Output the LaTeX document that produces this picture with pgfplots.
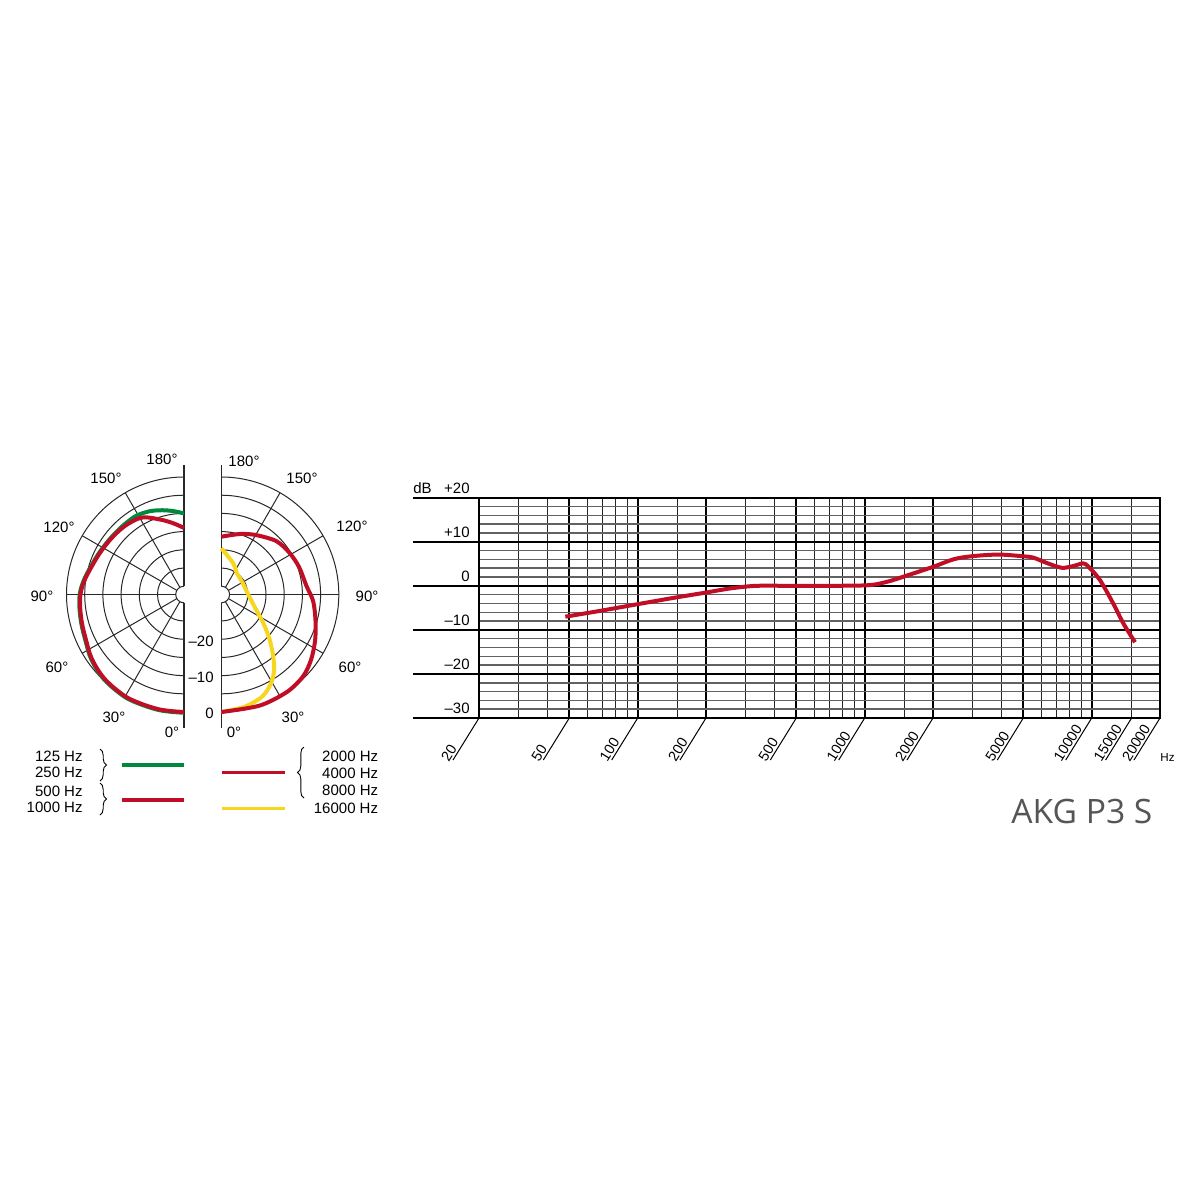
\documentclass[border=0pt]{standalone}
\usepackage{pgfplots}
\pgfplotsset{compat=1.18}
\usepackage{pgfplotstable}
\usepackage{fontspec}
\setmainfont{Liberation Sans}
\newfontfamily\akgfont{Open Sans}
\usetikzlibrary{decorations.pathreplacing}

\definecolor{akgred}{RGB}{192,14,38}
\definecolor{akggreen}{RGB}{0,136,60}
\definecolor{akgyellow}{RGB}{247,214,30}
\definecolor{ringgray}{RGB}{40,40,40}
\definecolor{akggray}{RGB}{85,85,85}

% polar patterns: angle from 0 deg (front, bottom), level in dB
\pgfplotstableread{
a db
0 0.2
12 0.2
25 0.2
33 0.1
44 -0.3
55 -1.2
65 -2.4
75 -3.0
85 -3.4
92 -3.8
99 -4.6
107 -5.6
116 -6.3
126 -6.8
135 -7.0
142 -7.0
149 -7.0
157 -7.5
164 -8.2
172 -9.1
180 -10.0
}\leftgreen

\pgfplotstableread{
a db
0 0
12 0
25 0
33 -0.1
44 -0.5
55 -1.4
65 -2.6
75 -3.2
85 -3.6
92 -4.0
99 -4.8
107 -5.8
116 -6.5
126 -7.0
135 -7.3
143 -7.6
152 -8.3
162 -10.6
171 -12.4
180 -14.0
}\leftred

\pgfplotstableread{
a db
0 0
19 0
34 0
45 -0.5
54 -1.8
64 -3.6
75 -5.5
86 -7.0
96 -8.8
109 -9.6
121 -10.3
134 -11.2
150 -13.4
163 -14.9
180 -16.4
}\rightred

\pgfplotstableread{
a db
0 0
12 -0.8
22 -2.1
29.5 -4.4
35 -7.0
40 -10.1
47 -14.1
55 -18.0
65 -21.5
86 -24.6
120 -25.6
144 -25.0
160 -23.0
180 -19.6
}\rightyellow

% frequency response
\pgfplotstableread{
f db
48 -7.0
68 -5.7
99 -4.2
149 -2.6
196 -1.6
255 -0.6
334 0.0
500 0.0
1000 0.1
1250 0.9
1506 2.2
2000 4.3
2456 6.0
2940 6.7
3880 7.1
5000 6.7
5534 6.4
6334 5.2
7380 4.1
8300 4.5
9180 5.1
9700 4.3
10880 1.3
12440 -4.0
13780 -8.5
15520 -12.8
}\freq

\begin{document}
\begin{tikzpicture}[font=\fontsize{7.5}{9}\selectfont]
% 1 px of the reference = 0.5pt
\begin{scope}[x=0.5pt, y=0.5pt]
\useasboundingbox (0,0) rectangle (1200,-1200);

% ---- polar grids ----
\foreach \r in {4.15,13.25,22.35,31.45,40.55,49.65,58.75}{
  \draw[ringgray, line width=0.5pt] (184,-594.5) ++(90:\r pt) arc[start angle=90, end angle=270, radius=\r pt];
  \draw[ringgray, line width=0.5pt] (221.3,-594.5) ++(-90:\r pt) arc[start angle=-90, end angle=90, radius=\r pt];
}
\foreach \a in {120,150,180,210,240}{
  \draw[ringgray, line width=0.5pt] (184,-594.5) ++(\a:4.15pt) -- ++(\a:54.6pt);
}
\foreach \a in {-60,-30,0,30,60}{
  \draw[ringgray, line width=0.5pt] (221.3,-594.5) ++(\a:4.15pt) -- ++(\a:54.6pt);
}
\draw[ringgray, line width=0.55pt] (184,-465) -- (184,-586.2) (184,-602.8) -- (184,-728);
\draw[ringgray, line width=0.55pt] (221.3,-465) -- (221.3,-586.2) (221.3,-602.8) -- (221.3,-728);

% angle labels
\node at (162,-459) {180°};
\node at (106,-478) {150°};
\node at (59,-527) {120°};
\node at (42,-596) {90°};
\node at (57,-667) {60°};
\node at (114,-717) {30°};
\node at (172,-732) {0°};
\node at (244,-461) {180°};
\node at (302,-478) {150°};
\node at (352,-526) {120°};
\node at (367,-596) {90°};
\node at (350,-667) {60°};
\node at (293,-717) {30°};
\node at (234,-732) {0°};
\node[anchor=east, inner sep=0pt] at (214,-641) {\textendash20};
\node[anchor=east, inner sep=0pt] at (214,-677) {\textendash10};
\node[anchor=east, inner sep=0pt] at (214,-713) {0};

% ---- legend ----
\node[anchor=east, inner sep=0pt] at (83,-756.7) {125 Hz};
\node[anchor=east, inner sep=0pt] at (83,-772.7) {250 Hz};
\node[anchor=east, inner sep=0pt] at (83,-791) {500 Hz};
\node[anchor=east, inner sep=0pt] at (83,-807.3) {1000 Hz};
\draw[decorate, decoration={brace, amplitude=3.2pt}, line width=0.45pt] (100,-749) -- (100,-781);
\draw[decorate, decoration={brace, amplitude=3.2pt}, line width=0.45pt] (100,-783) -- (100,-815);
\draw[akggreen, line width=1.7pt] (122,-765) -- (184,-765);
\draw[akgred, line width=1.7pt] (122,-800) -- (184,-800);
\draw[akgred, line width=1.7pt] (222,-772.3) -- (285,-772.3);
\draw[akgyellow, line width=1.7pt] (222,-808.3) -- (285,-808.3);
\draw[decorate, decoration={brace, amplitude=3.2pt}, line width=0.45pt] (304,-798) -- (304,-747);
\node[anchor=east, inner sep=0pt] at (378.5,-756) {2000 Hz};
\node[anchor=east, inner sep=0pt] at (378.5,-773.3) {4000 Hz};
\node[anchor=east, inner sep=0pt] at (378.5,-790.7) {8000 Hz};
\node[anchor=east, inner sep=0pt] at (378.5,-808.3) {16000 Hz};

% slanted frequency labels
\foreach \xp/\lab in {479/20, 569.3/50, 637.7/100, 706/200, 796.3/500, 864.7/1000,
    933/2000, 1023.3/5000, 1091.7/10000, 1131.6/15000, 1160/20000}{
  \draw[black, line width=0.5pt] (\xp,-718) -- ++(-26,-42);
  \node[anchor=south west, rotate=58, inner sep=0pt, font=\fontsize{7.2}{8}\selectfont]
    at ({\xp-30},-763) {\lab};
}
\foreach \y in {497.7,541.7,585.8,629.9,673.9,718}{
  \draw[black, line width=0.9pt] (413,-\y) -- (479,-\y);
}
\node[anchor=base west, inner sep=0pt] at (413,-493.2) {dB};
\node[anchor=base east, inner sep=0pt] at (470,-493.2) {+20};
\node[anchor=base east, inner sep=0pt] at (470,-537.2) {+10};
\node[anchor=base east, inner sep=0pt] at (470,-581.3) {0};
\node[anchor=base east, inner sep=0pt] at (470,-625.4) {\textendash10};
\node[anchor=base east, inner sep=0pt] at (470,-669.4) {\textendash20};
\node[anchor=base east, inner sep=0pt] at (470,-713.5) {\textendash30};
\node[anchor=west, inner sep=0pt, font=\fontsize{5.8}{7}\selectfont] at (1160,-757.5) {Hz};

\node[anchor=base west, inner sep=0pt, text=akggray, font=\akgfont\fontsize{16.8}{19}\selectfont] at (1011,-823.3) {AKG P3 S};
\end{scope}

% ---- left polar pattern ----
\begin{axis}[at={(92pt,-297.25pt)}, anchor=origin, hide axis,
  x=1.82pt, y=1.82pt, xmin=-40, xmax=40, ymin=-40, ymax=40, clip=false]
\addplot[akggreen, line width=2pt, smooth, tension=0.6, data cs=polar]
  table[x expr={270-\thisrow{a}}, y expr={\thisrow{db}+32.28}] {\leftgreen};
\addplot[akgred, line width=2pt, smooth, tension=0.6, data cs=polar]
  table[x expr={270-\thisrow{a}}, y expr={\thisrow{db}+32.28}] {\leftred};
\end{axis}

% ---- right polar pattern ----
\begin{axis}[at={(110.65pt,-297.25pt)}, anchor=origin, hide axis,
  x=1.82pt, y=1.82pt, xmin=-40, xmax=40, ymin=-40, ymax=40, clip=false]
\addplot[akgyellow, line width=2pt, smooth, tension=0.5, data cs=polar]
  table[x expr={270+\thisrow{a}}, y expr={\thisrow{db}+32.28}] {\rightyellow};
\addplot[akgred, line width=2pt, smooth, tension=0.5, data cs=polar]
  table[x expr={270+\thisrow{a}}, y expr={\thisrow{db}+32.28}] {\rightred};
\end{axis}

% ---- frequency response ----
\begin{axis}[at={(239.5pt,-359pt)}, anchor=south west,
  scale only axis, width=340.5pt, height=110.15pt,
  xmode=log, xmin=20, xmax=20000, ymin=-30, ymax=20,
  xtick={50,100,200,500,1000,2000,5000,10000},
  minor xtick={30,40,60,70,80,90,150,300,400,600,700,800,900,1500,3000,4000,6000,7000,8000,9000,15000},
  ytick={-20,-10,0,10},
  minor ytick={-28,-26,...,18},
  xticklabels={}, yticklabels={},
  tick style={draw=none},
  grid=both,
  major grid style={black, line width=0.9pt},
  minor x grid style={black!85, line width=0.5pt},
  minor y grid style={black!62, line width=0.75pt},
  axis line style={black, line width=0.9pt},
  clip=false]
\addplot[akgred, line width=2pt, smooth, tension=0.5] table[x=f, y=db] {\freq};
\end{axis}
\end{tikzpicture}
\end{document}
